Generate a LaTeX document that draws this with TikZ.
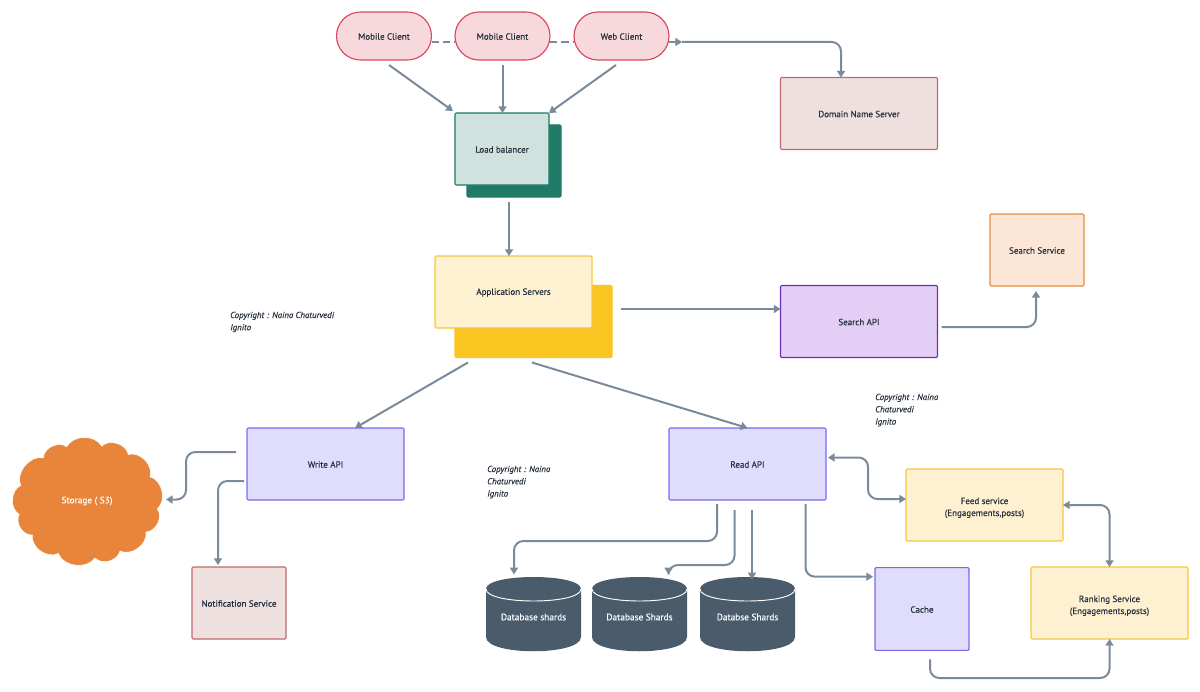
\documentclass[tikz,border=0pt]{standalone}
\usepackage{fontspec}
\setmainfont[ItalicFeatures={FakeBold=0.25}]{PT Sans}
\newfontfamily\boldish[FakeBold=0.3]{PT Sans}
\usetikzlibrary{arrows.meta,calc}
\definecolor{ink}{HTML}{26303C}
\definecolor{wire}{HTML}{7A8A9A}
\definecolor{pinkF}{HTML}{F6D8DD}
\definecolor{pinkB}{HTML}{D8475F}
\definecolor{tealF}{HTML}{CFE2DE}
\definecolor{tealB}{HTML}{1F7A68}
\definecolor{roseF}{HTML}{EFE0E0}
\definecolor{roseB}{HTML}{C0696C}
\definecolor{creamF}{HTML}{FDF1D1}
\definecolor{creamB}{HTML}{F8C63B}
\definecolor{goldF}{HTML}{FAC421}
\definecolor{lilacF}{HTML}{E3CFF5}
\definecolor{lilacB}{HTML}{6A2FB8}
\definecolor{peachF}{HTML}{FBE6D8}
\definecolor{peachB}{HTML}{E98A3A}
\definecolor{blueF}{HTML}{DFDDFB}
\definecolor{blueB}{HTML}{7B68EE}
\definecolor{slate}{HTML}{4A5B6B}
\definecolor{orangeF}{HTML}{E9853A}
\tikzset{
  x=0.75pt,y=-0.75pt,
  lbl/.style={font=\boldish\fontsize{6.75}{9}\selectfont,text=ink,align=center},
  card/.style={lbl,rectangle,draw,line width=0.85pt,rounded corners=0.8pt,inner sep=0pt,outer sep=0pt,
     execute at begin node={\rule{0pt}{5.6pt}}},
  twolines/.style={execute at begin node={\rule{0pt}{9pt}}},
  wide/.style={card,minimum width=117.75pt,minimum height=54pt},
  squarish/.style={card,minimum width=70.5pt,minimum height=54pt},
  pill/.style={card,minimum width=71.25pt,minimum height=36pt,rounded corners=18pt,draw=pinkB,fill=pinkF},
  conn/.style={draw=wire,line width=1.5pt,rounded corners=7pt,-{Triangle[length=5pt,width=6pt]}},
  both/.style={conn,{Triangle[length=5pt,width=6pt]}-{Triangle[length=5pt,width=6pt]}},
  dashconn/.style={draw=wire,line width=1.5pt,dash pattern=on 5.5pt off 3pt},
  note/.style={font=\fontsize{6.6}{9.2}\selectfont\itshape,text=ink,align=left,anchor=north west,inner sep=0pt},
  whitetext/.style={font=\boldish\fontsize{7}{9}\selectfont,text=white,inner sep=0pt},
}
\newcommand{\dbcan}[1]{%
  \fill[slate] (#1-47.5,589) .. controls (#1-47.5,573) and (#1+47.5,573) .. (#1+47.5,589)
     -- (#1+47.5,637) .. controls (#1+47.5,656) and (#1-47.5,656) .. (#1-47.5,637) -- cycle;
  \draw[white,line width=0.7pt] (#1-47.5,589) .. controls (#1-47.5,605) and (#1+47.5,605) .. (#1+47.5,589);
}
\begin{document}
\begin{tikzpicture}
\useasboundingbox (0,0) rectangle (1200,692);
% clients
\node[pill] (mobA) at (384,36) {Mobile Client};
\node[pill] (mobB) at (502.5,36) {Mobile Client};
\node[pill] (web) at (621.5,36) {Web Client};
% load balancer
\node[squarish,draw=tealB,fill=tealB] (lbback) at (514,161) {};
\node[squarish,draw=tealB,fill=tealF] (lb) at (502,149) {Load balancer};
% dns
\node[wide,draw=roseB,fill=roseF] (dns) at (859,113.5) {Domain Name Server};
% application servers
\node[wide,draw=goldF,fill=goldF] (appback) at (533.5,321.5) {};
\node[wide,draw=creamB,fill=creamF] (app) at (513.5,292) {Application Servers};
% search
\node[wide,draw=lilacB,fill=lilacF] (sapi) at (859,321.5) {Search API};
\node[squarish,draw=peachB,fill=peachF] (ssvc) at (1037,250) {Search Service};
% apis
\node[wide,draw=blueB,fill=blueF] (wapi) at (325.5,464) {Write API};
\node[wide,draw=blueB,fill=blueF] (rapi) at (747.5,464) {Read API};
% services
\node[wide,twolines,draw=creamB,fill=creamF] (feed) at (984.5,505) {\rule{0pt}{9pt}Feed service\\(Engagements,posts)};
\node[wide,twolines,draw=creamB,fill=creamF] (rank) at (1109.5,603) {\rule{0pt}{9pt}Ranking Service\\(Engagements,posts)};
\node[card,minimum width=70.5pt,minimum height=62pt,draw=blueB,fill=blueF] (cache) at (922,609) {Cache};
\node[squarish,draw=roseB,fill=roseF] (notif) at (239,603) {Notification Service};
% storage cloud
\fill[orangeF,draw=white,line width=0.4pt]
  (66.7,446.8) to[bend left=62] (101.7,446.2) to[bend left=62] (128.3,454.5) to[bend left=62]
  (150,476.8) to[bend left=62] (157.3,508.8) to[bend left=62] (146,532) to[bend left=62]
  (120,551) to[bend left=62] (95,558) to[bend left=62] (58.3,553.5) to[bend left=62]
  (32.3,535) to[bend left=62] (19.3,514.5) to[bend left=62] (20.7,485.5) to[bend left=62]
  (43.3,457.8) to[bend left=62] cycle;
\node[whitetext] (store) at (87,501) {Storage ( S3)};
% database shards
\dbcan{533.5}
\dbcan{639.5}
\dbcan{747.5}
\node[whitetext] (dbA) at (533.5,617) {Database shards};
\node[whitetext] (dbB) at (639.5,617) {Database Shards};
\node[whitetext] (dbC) at (747.5,617) {Databse Shards};
% connectors
\draw[dashconn] (mobA.east |- 0,42) -- (mobB.west |- 0,42);
\draw[dashconn] (mobB.east |- 0,42) -- (web.west |- 0,42);
\draw[conn,rounded corners=0pt,dash pattern=on 5.5pt off 1pt] (web.east |- 0,42) -- (682,42);
\draw[conn] (682,42) -| ($(dns.north)+(-18,0)$);
\draw[conn,rounded corners=0pt] ($(mobA.south)+(5,5)$) -- ($(lb.north west)+(-2,-2)$);
\draw[conn,rounded corners=0pt] ($(mobB.south)+(0,5)$) -- ($(lb.north)+(0.5,0)$);
\draw[conn,rounded corners=0pt] ($(web.south)+(-5.5,5)$) -- (lb.north east);
\draw[conn,rounded corners=0pt] ($(lbback.south)+(-5,5)$) -- ($(app.north)+(-4.5,0)$);
\draw[conn,rounded corners=0pt] ($(appback.east)+(9,-12.5)$) -- ($(sapi.west)+(0,-12.5)$);
\draw[conn] ($(sapi.east)+(4,5.5)$) -| ($(ssvc.south)+(-1,5)$);
\draw[conn,rounded corners=0pt] ($(appback.south)+(-65.5,5)$) -- ($(wapi.north)+(29.5,0)$);
\draw[conn,rounded corners=0pt] ($(appback.south)+(-1.5,5)$) -- (rapi.north);
\draw[conn] ($(wapi.west)+(-11,-12)$) -| (186,499.5) -- (166,499.5);
\draw[conn] ($(wapi.west)+(-3,17)$) -| ($(notif.north)+(-21,-2)$);
\draw[conn] ($(rapi.south)+(-30.5,4)$) |- (514,541) -- ($(dbA.north)+(-19.5,-39)$);
\draw[conn] ($(rapi.south)+(-13,10)$) |- (668.5,565) -- ($(dbB.north)+(29,-39)$);
\draw[conn,rounded corners=0pt] ($(rapi.south)+(4.5,10)$) -- ($(dbC.north)+(4.5,-34)$);
\draw[conn] ($(rapi.south)+(58,4)$) |- ($(cache.north west)+(-2,9)$);
\draw[both] ($(rapi.east)+(2,-6.5)$) -| (868,499) -- ($(feed.west)+(0,-6)$);
\draw[both] (feed.east) -| (rank.north);
\draw[conn] ($(cache.south)+(8,9)$) |- (1109.5,678) -- (rank.south);
% notes
\node[note] (noteA) at (230,311.5) {Copyright : Naina Chaturvedi\\Ignito};
\node[note] (noteB) at (875,393.5) {Copyright : Naina\\Chaturvedi\\Ignito};
\node[note] (noteC) at (487,465.5) {Copyright : Naina\\Chaturvedi\\Ignito};
\end{tikzpicture}
\end{document}
